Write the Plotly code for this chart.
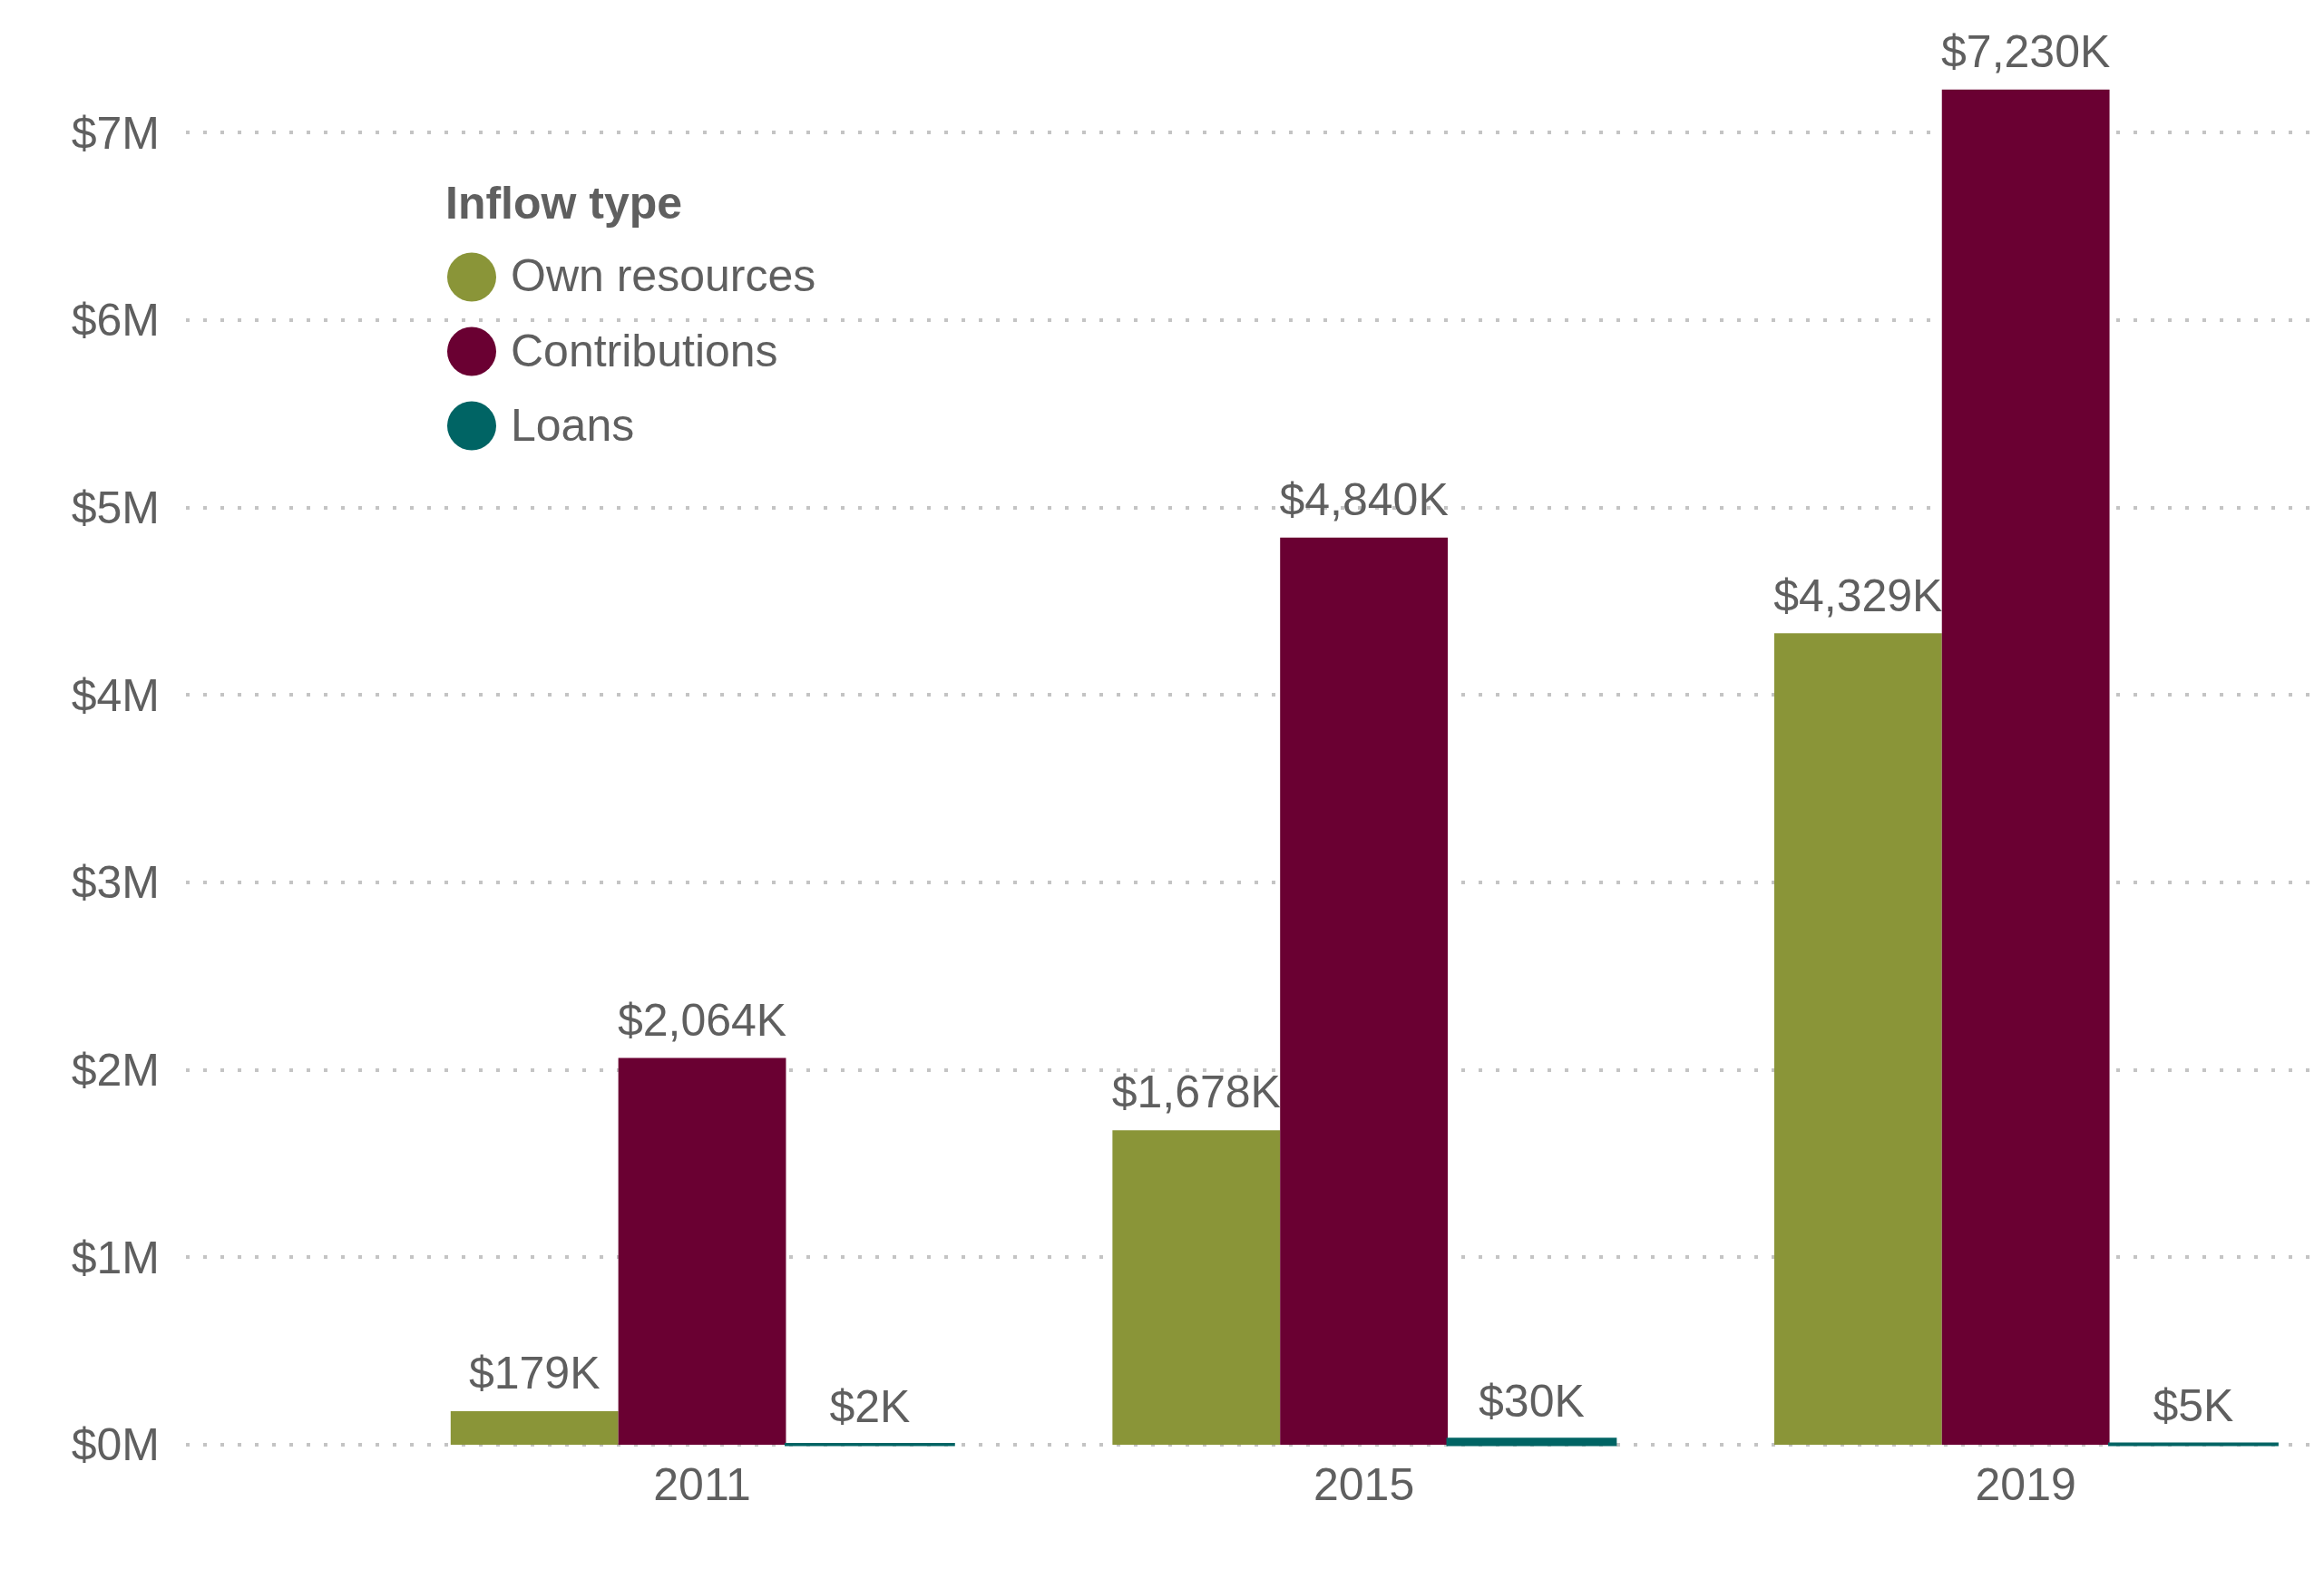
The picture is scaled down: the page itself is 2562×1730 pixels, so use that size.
import plotly.graph_objects as go

# ---- data (values in thousands of dollars) ----
years = ["2011", "2015", "2019"]
series_names = ["Own resources", "Contributions", "Loans"]
own_resources = [179, 1678, 4329]
contributions = [2064, 4840, 7230]
loans = [2, 30, 5]
y_tick_vals = [0, 1000, 2000, 3000, 4000, 5000, 6000, 7000]
y_tick_text = ["$0M", "$1M", "$2M", "$3M", "$4M", "$5M", "$6M", "$7M"]
legend_title = "Inflow type"

colors = ["#8a9538", "#6a0032", "#006464"]
text_color = "#5f5f5f"
FONT = "Liberation Sans, Arial, sans-serif"
FS = 50

W, H = 2562, 1730
ML, MR, MT, MB = 205, 2, 43, 135
PW, PH = W - ML - MR, H - MT - MB

fig = go.Figure()
all_series = [own_resources, contributions, loans]
for i, (name, vals) in enumerate(zip(series_names, all_series)):
    fig.add_trace(go.Bar(
        name=name, x=years, y=vals, base=0,
        marker=dict(color=colors[i],
                    line=dict(color=colors[i], width=3 if name == "Loans" else 0)),
        offsetgroup=str(i), alignmentgroup="g",
        showlegend=False, hoverinfo="skip",
    ))
for i, (name, vals) in enumerate(zip(series_names, all_series)):
    fig.add_trace(go.Scatter(
        x=years, y=vals, mode="markers+text",
        text=[f"${v:,}K" for v in vals],
        textposition="top center",
        textfont=dict(family=FONT, size=FS, color=text_color),
        marker=dict(size=18, opacity=0),
        offsetgroup=str(i), alignmentgroup="g",
        showlegend=False, hoverinfo="skip", cliponaxis=False,
    ))

# ---- legend (drawn manually to get large circular swatches) ----
def px_x(x):
    return (x - ML) / PW

def px_y(y):
    return (H - MB - y) / PH

annotations = [dict(
    text=f"<b>{legend_title}</b>", xref="paper", yref="paper",
    x=px_x(489), y=px_y(224), xanchor="left", yanchor="middle",
    showarrow=False, font=dict(family=FONT, size=FS, color=text_color),
)]
shapes = []
for i, name in enumerate(series_names):
    cy = 305.5 + i * 82
    shapes.append(dict(
        type="circle", xref="paper", yref="paper",
        xsizemode="pixel", ysizemode="pixel",
        xanchor=px_x(520), yanchor=px_y(cy),
        x0=-27, x1=27, y0=-27, y1=27,
        fillcolor=colors[i], line=dict(width=0),
    ))
    annotations.append(dict(
        text=name, xref="paper", yref="paper",
        x=px_x(561), y=px_y(cy - 1), xanchor="left", yanchor="middle",
        showarrow=False, font=dict(family=FONT, size=FS, color=text_color),
    ))

fig.update_layout(
    width=W, height=H,
    margin=dict(l=ML, r=MR, t=MT, b=MB, pad=0),
    paper_bgcolor="white", plot_bgcolor="white",
    barmode="group", bargap=0.24, bargroupgap=0,
    scattermode="group",
    font=dict(family=FONT, size=FS, color=text_color),
    annotations=annotations, shapes=shapes,
    xaxis=dict(
        type="category", categoryorder="array", categoryarray=years,
        range=[-0.78, 2.448], showgrid=False, zeroline=False, showline=False,
        ticks="", ticklabelstandoff=8,
        tickfont=dict(family=FONT, size=FS, color=text_color),
    ),
    yaxis=dict(
        range=[-10, 7500], tickvals=y_tick_vals, ticktext=y_tick_text,
        showgrid=True, gridcolor="#c4c4c4", gridwidth=4, griddash="4px,15px",
        zeroline=False, showline=False, ticks="", ticklabelstandoff=28,
        tickfont=dict(family=FONT, size=FS, color=text_color),
        layer="below traces",
    ),
)

fig.write_html("out.html")
